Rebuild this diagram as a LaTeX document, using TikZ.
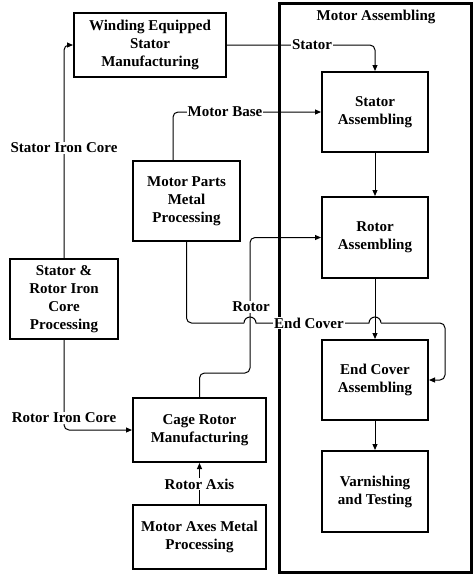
\documentclass[tikz,border=0pt]{standalone}
\usepackage{fontspec}
\setmainfont{Liberation Serif}
\usetikzlibrary{arrows.meta}
\begin{document}
\begin{tikzpicture}[x=1pt,y=-1pt,
  txt/.style={font=\bfseries\fontsize{15}{18}\selectfont, align=center},
  box/.style={txt, draw, line width=2pt, inner sep=0pt},
  lbl/.style={txt, fill=white, inner sep=1pt},
  conn/.style={line width=1pt, rounded corners=5pt},
  arr/.style={conn, -{Triangle[length=6pt,width=5pt]}}]
\useasboundingbox (0,0) rectangle (474,574);
% frame
\draw[line width=3pt] (279,3) rectangle (471,572);
\node[txt] (title) at (376,17) {Motor Assembling};
% boxes
\node[box, minimum width=152pt, minimum height=64pt] (W) at (150,45) {Winding Equipped\\Stator\\Manufacturing};
\node[box, minimum width=106pt, minimum height=80pt] (SA) at (375,112) {Stator\\Assembling};
\node[box, minimum width=107pt, minimum height=80pt] (MP) at (186.5,201) {Motor Parts\\Metal\\Processing};
\node[box, minimum width=106pt, minimum height=81pt] (RA) at (375,237.5) {Rotor\\Assembling};
\node[box, minimum width=108pt, minimum height=80pt] (SR) at (64,299) {Stator \&\\Rotor Iron\\Core\\Processing};
\node[box, minimum width=106pt, minimum height=80pt] (EA) at (375,380) {End Cover\\Assembling};
\node[box, minimum width=133pt, minimum height=64pt] (CR) at (199.5,430) {Cage Rotor\\Manufacturing};
\node[box, minimum width=106pt, minimum height=81pt] (VT) at (375,491.5) {Varnishing\\and Testing};
\node[box, minimum width=133pt, minimum height=64pt] (MA) at (199.5,537) {Motor Axes Metal\\Processing};
% helper coordinates
\coordinate (ecA) at (244,323);
\coordinate (ecB) at (256,323);
\coordinate (ecC) at (369,323);
\coordinate (ecD) at (381,323);
% connectors
\draw[arr] (SR.north) |- (W.west);
\draw[arr] (SR.south) |- (CR.west);
\draw[arr] (W.east) -| (SA.north);
\draw[arr] ([xshift=-13.5pt]MP.north) |- (SA.west);
\draw[arr] (SA.south) -- (RA.north);
\draw[arr] (CR.north) |- (250,373) |- (RA.west);
\draw[arr] (RA.south) -- (EA.north);
\draw[arr] (EA.south) -- (VT.north);
\draw[arr] (MA.north) -- (CR.south);
\draw[conn] (MP.south) |- (ecA);
\draw[line width=1pt] (ecA) arc (180:360:6) -- (ecC) arc (180:360:6);
\draw[arr] (ecD) -| (445,380) -- (EA.east);
% labels
\node[lbl] at (64,148) {Stator Iron Core};
\node[lbl] at (64,418) {Rotor Iron Core};
\node[lbl] at (312,45) {Stator};
\node[lbl] at (225,112) {Motor Base};
\node[lbl] at (251,307) {Rotor};
\node[lbl] at (309,323) {End Cover};
\node[lbl] at (199.5,484) {Rotor Axis};
\end{tikzpicture}
\end{document}
